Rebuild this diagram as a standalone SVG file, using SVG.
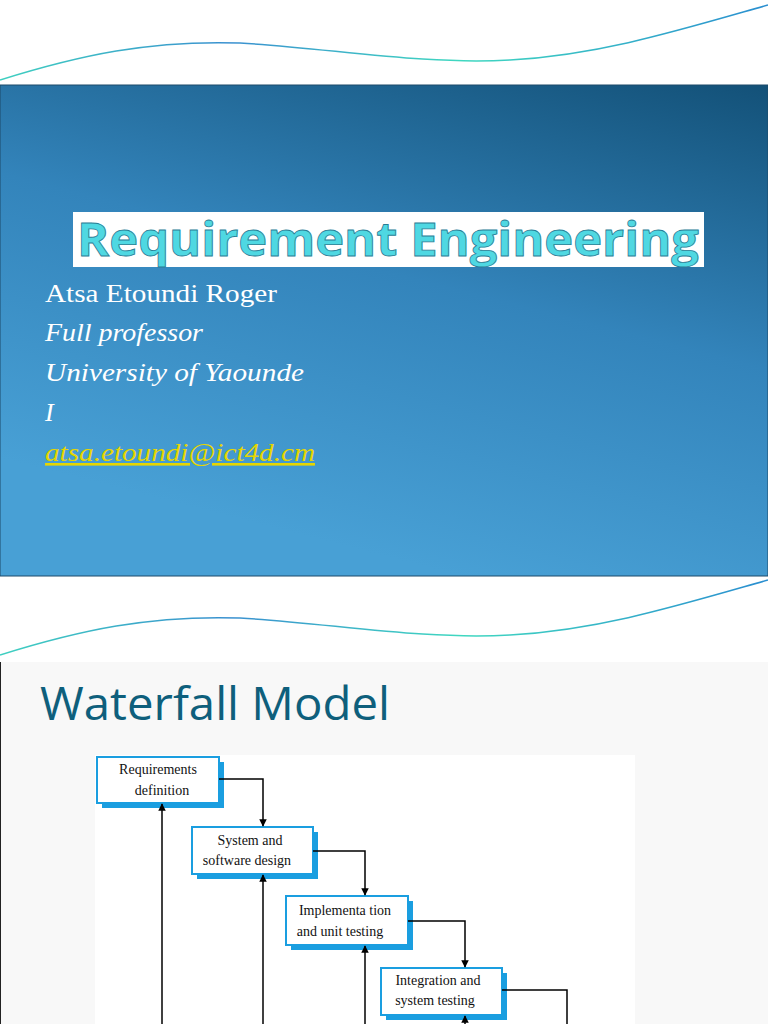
<svg xmlns="http://www.w3.org/2000/svg" width="768" height="1024" viewBox="0 0 768 1024">
<defs>
<linearGradient id="bg" x1="1" y1="0" x2="0.6" y2="1">
<stop offset="0" stop-color="#135178"/><stop offset="0.5" stop-color="#3384bb"/><stop offset="1" stop-color="#48a0d5"/>
</linearGradient>
<linearGradient id="wave" x1="0" y1="0" x2="1" y2="0">
<stop offset="0" stop-color="#3fd0c0"/><stop offset="0.3" stop-color="#3a90d0"/><stop offset="0.6" stop-color="#40d8c0"/><stop offset="1" stop-color="#2a8ed0"/>
</linearGradient>
<marker id="ah" viewBox="0 0 10 10" refX="9" refY="5" markerWidth="5" markerHeight="6" orient="auto"><path d="M0,0L10,5L0,10z" fill="#000"/></marker>
</defs>
<style>
.wave{fill:none;stroke:url(#wave);stroke-width:1.5}
.box{fill:#fff;stroke:#1a9ee0;stroke-width:2}
.sh{fill:#1a9ee0}
.bt{font-family:"Liberation Serif",serif;font-size:14px;fill:#111;text-anchor:middle}
.c{fill:none;stroke:#000;stroke-width:1.5}
.info{font-family:"Liberation Serif",serif;font-size:26px}
</style>
<rect width="768" height="1024" fill="#fff"/>
<path class="wave" d="M0,80 C80,55 150,40 240,43 C330,48 420,65 510,60 C600,55 680,30 768,5"/>
<rect x="0" y="85" width="768" height="491" fill="url(#bg)" stroke="#1d4a6a"/>
<rect x="73" y="212" width="631" height="55" fill="#fff"/>
<text x="388" y="256" font-family="Open Sans,sans-serif" font-weight="bold" font-size="46" fill="#4fd8e2" stroke="#2a7d95" stroke-width="0.8" text-anchor="middle" textLength="622" lengthAdjust="spacingAndGlyphs">Requirement Engineering</text>
<g fill="#fff">
<text class="info" x="45" y="302" textLength="232" lengthAdjust="spacingAndGlyphs">Atsa Etoundi Roger</text>
<text class="info" x="45" y="341" font-style="italic" textLength="158" lengthAdjust="spacingAndGlyphs">Full professor</text>
<text class="info" x="45" y="381" font-style="italic" textLength="259" lengthAdjust="spacingAndGlyphs">University of Yaounde</text>
<text class="info" x="45" y="421" font-style="italic">I</text>
</g>
<text class="info" x="45" y="461" font-style="italic" fill="#e6d600" text-decoration="underline" textLength="270" lengthAdjust="spacingAndGlyphs">atsa.etoundi@ict4d.cm</text>
<path class="wave" d="M0,655 C80,630 150,615 240,618 C330,623 420,640 510,635 C600,630 680,605 768,580"/>
<rect x="0" y="662" width="768" height="362" fill="#f8f8f8"/>
<line x1="0.5" y1="662" x2="0.5" y2="1024" stroke="#222"/>
<text x="40" y="720" font-family="Open Sans,sans-serif" font-size="46" fill="#0e5f7c" textLength="350" lengthAdjust="spacingAndGlyphs">Waterfall Model</text>
<rect x="95" y="755" width="540" height="269" fill="#fff"/>
<g id="n1"><rect class="sh" x="102" y="762" width="122" height="46"/><rect class="box" x="97" y="757" width="122" height="46"/><text class="bt" x="158" y="774">Requirements</text><text class="bt" x="162" y="795">definition</text></g>
<g id="n2"><rect class="sh" x="197" y="832" width="121" height="47"/><rect class="box" x="192" y="827" width="121" height="47"/><text class="bt" x="250" y="845">System and</text><text class="bt" x="247" y="865">software design</text></g>
<g id="n3"><rect class="sh" x="291" y="901" width="122" height="49"/><rect class="box" x="286" y="896" width="122" height="49"/><text class="bt" x="345" y="915">Implementa  tion</text><text class="bt" x="340" y="936">and unit testing</text></g>
<g id="n4"><rect class="sh" x="386" y="973" width="121" height="47"/><rect class="box" x="381" y="968" width="121" height="47"/><text class="bt" x="438" y="985">Integration and</text><text class="bt" x="435" y="1005">system testing</text></g>
<g id="connectors">
<path class="c" d="M219,779H263V826" marker-end="url(#ah)"/>
<path class="c" d="M313,851H365V895" marker-end="url(#ah)"/>
<path class="c" d="M408,921H465V967" marker-end="url(#ah)"/>
<path class="c" d="M502,990H567V1024"/>
<path class="c" d="M162,1024V804" marker-end="url(#ah)"/>
<path class="c" d="M263,1024V875" marker-end="url(#ah)"/>
<path class="c" d="M365,1024V946" marker-end="url(#ah)"/>
<path class="c" d="M465,1024V1016" marker-end="url(#ah)"/>
</g>
</svg>
